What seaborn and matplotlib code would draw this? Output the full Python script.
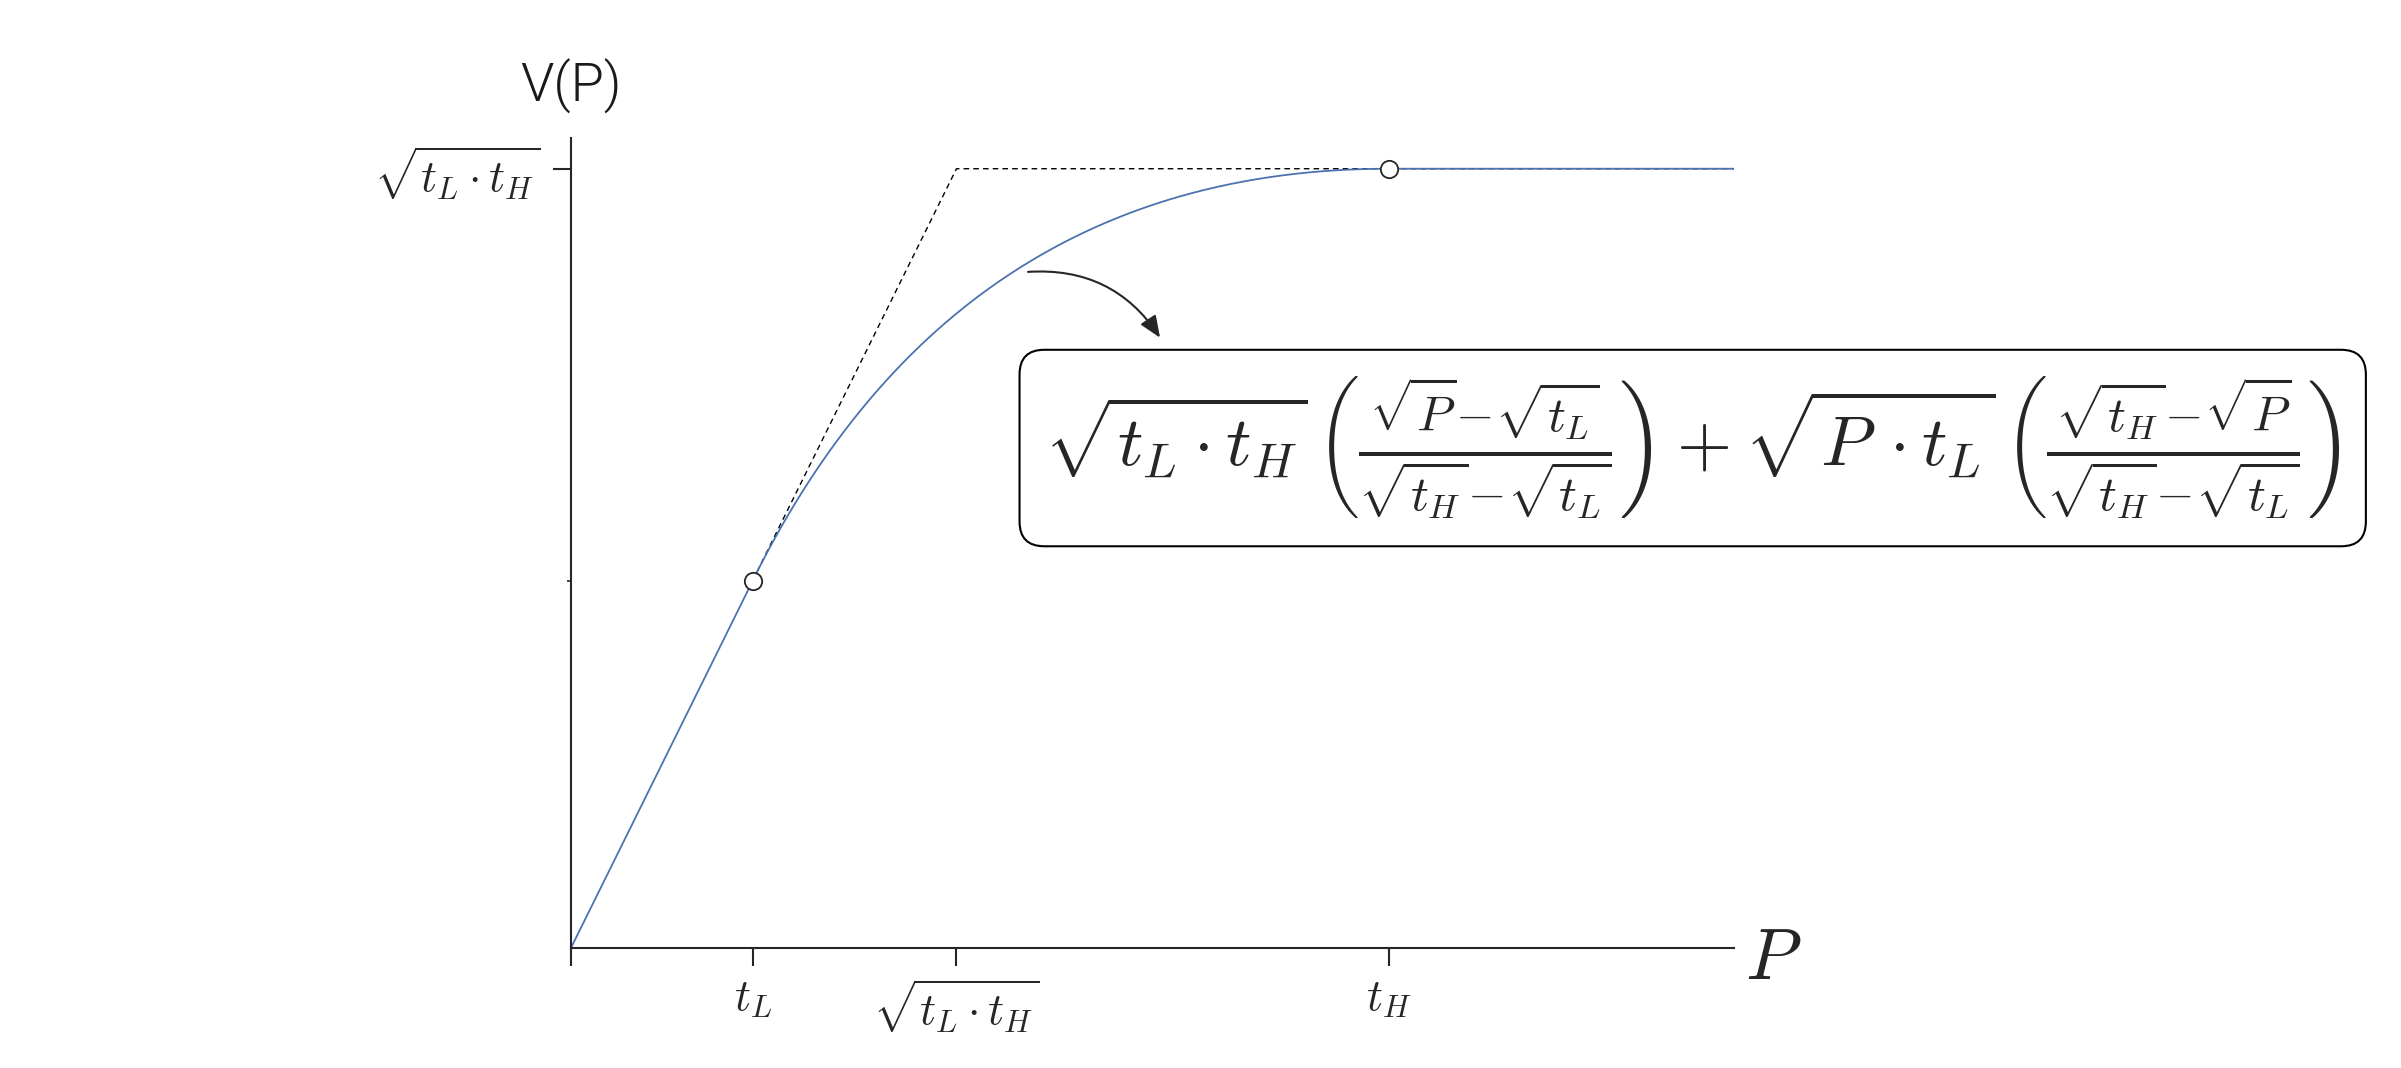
import numpy as np
import pandas as pd
import matplotlib
matplotlib.use("Agg")
import matplotlib.pyplot as plt
import seaborn as sns

# PARAMETERS (t_H / t_L = 4.5)
t_L = 2.0
t_H = 9.0
p_max = 12.8
y_max = 4.41

t_mid = np.sqrt(t_L * t_H)

# curve V(P): linear up to t_L, formula in the box between t_L and t_H, flat after
P = np.concatenate([[0.0], np.linspace(t_L, t_H, 300), [p_max]])
V = np.where(
    P <= t_L, P,
    np.where(
        P >= t_H, t_mid,
        t_mid * (np.sqrt(P) - np.sqrt(t_L)) / (np.sqrt(t_H) - np.sqrt(t_L))
        + np.sqrt(P * t_L) * (np.sqrt(t_H) - np.sqrt(P)) / (np.sqrt(t_H) - np.sqrt(t_L)),
    ),
)
curve = pd.DataFrame({"P": P, "V": V})

# dotted guide
guide_x = [t_L, t_mid, p_max]
guide_y = [t_L, t_mid, t_mid]

# marked points
pts = pd.DataFrame({"P": [t_L, t_H], "V": [t_L, t_mid]})

x_ticks = [0, t_L, t_mid, t_H]
x_labels = ["", r"$t_L$", r"$\sqrt{t_L \cdot t_H}$", r"$t_H$"]

formula = (r"$\sqrt{t_L \cdot t_H}\,\left(\frac{\sqrt{P}\!-\!\sqrt{t_L}}{\sqrt{t_H}\!-\!\sqrt{t_L}}\right)"
           r"+\sqrt{P\, \cdot t_L}\,\left(\frac{\sqrt{t_H}\!-\!\sqrt{P}}{\sqrt{t_H}\!-\!\sqrt{t_L}}\right)$")

# PLOTTING
sns.set_style("ticks")
plt.rcParams["mathtext.fontset"] = "cm"
dark = "#262626"
blue = "#4C72B0"

fig = plt.figure(figsize=(24.01, 10.68), dpi=100)
ax = fig.add_axes([0.2378, 0.1124, 0.4844, 0.7584])

ax.plot(guide_x, guide_y, color="black", lw=1.0, dashes=(4, 3), zorder=1)
sns.lineplot(data=curve, x="P", y="V", ax=ax, color=blue, lw=1.3, zorder=2)
ax.plot(pts["P"], pts["V"], "o", ms=12.5, mfc="white", mec=dark, mew=1.3, zorder=3)

ax.set_xlim(0, p_max)
ax.set_ylim(0, y_max)
sns.despine(ax=ax)
for s in ["left", "bottom"]:
    ax.spines[s].set_linewidth(1.5)
    ax.spines[s].set_color(dark)

ax.set_xticks(x_ticks)
ax.set_xticklabels(x_labels, fontsize=32)
ax.set_yticks([t_mid])
ax.set_yticklabels([r"$\sqrt{t_L \cdot t_H}$"], fontsize=32)
ax.set_yticks([t_L], minor=True)
ax.tick_params(axis="both", which="major", length=13, width=1.5, color=dark, pad=9)
ax.tick_params(axis="x", which="major", pad=8)
ax.tick_params(axis="y", which="minor", length=3, width=1.2, color=dark)
ax.set_xlabel("")
ax.set_ylabel("")

ax.annotate(r"$P$", xy=(p_max, 0), xytext=(8, -8), textcoords="offset points",
            ha="left", va="center", fontsize=52)
ax.annotate("V(P)", xy=(0, y_max), xytext=(0, 37), textcoords="offset points",
            ha="center", va="center", fontsize=39, family="Roboto", fontweight=300,
            color="#1a1a1a")

ax.annotate("", xy=(6.5, 3.31), xytext=(5.0, 3.68),
            arrowprops=dict(arrowstyle="-|>,head_length=0.6,head_width=0.25",
                            connectionstyle="arc3,rad=-0.3",
                            color=dark, lw=1.5, mutation_scale=22))

fig.text(0.705, 0.5805, formula, ha="center", va="center", fontsize=51,
         bbox=dict(boxstyle="round,pad=0.35", fc="white", ec="black", lw=1.5))

plt.savefig("out.png", dpi=100)
